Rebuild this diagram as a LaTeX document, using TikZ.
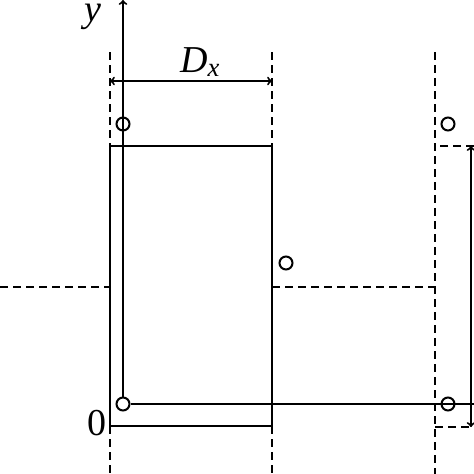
\documentclass[tikz,border=0pt]{standalone}
\usepackage{fontspec}
\setmainfont{Liberation Serif}
\usetikzlibrary{arrows}
\tikzstyle{line} = [draw, line width=2pt]
\tikzstyle{box} = [draw, line width=2.7pt]
\tikzstyle{guide} = [draw, line width=2.2pt, dash pattern=on 8pt off 5pt]
\tikzstyle{hole} = [draw, circle, line width=2pt, minimum size=13pt, inner sep=0pt]
\tikzstyle{lbl} = [inner sep=0pt, font=\fontsize{38}{44}\selectfont]

\begin{document}
\begin{tikzpicture}[x=1pt, y=-1pt]
	\useasboundingbox (0,0) rectangle (474,474);
	% part outline and guides
	\coordinate (RTL) at (110,146);
	\coordinate (RBR) at (272,426);
	\draw[box] (RTL) rectangle (RBR);
	\draw[guide] (110,52) -- (RTL);
	\draw[guide] (110,426) -- (110,474);
	\draw[guide] (272,52) -- (272,146);
	\draw[guide] (RBR) -- (272,474);
	\draw[guide] (435,52) -- (435,474);
	\draw[guide] (0,287) -- (110,287);
	\draw[guide] (272,287) -- (435,287);
	\draw[guide] (474,146) -- (435,146);
	\draw[guide] (435,427) -- (474,427);
	% holes
	\node[hole] (O) at (123,404) {};
	\node[hole] (A) at (123,124) {};
	\node[hole] (B) at (286,263) {};
	\node[hole] (C) at (448,124) {};
	\node[hole] (D) at (448,404) {};
	% axes
	\coordinate (Ytop) at (123,0);
	\coordinate (Xend) at (474,404);
	\draw[line, ->] (O) -- (Ytop);
	\draw[line] (O) -- (Xend);
	\node[lbl, anchor=north] (ylab) at (93,4) {\textit{y}};
	\node[lbl] (zero) at (97,423) {0};
	% pitch
	\coordinate (P1) at (110,81);
	\coordinate (P2) at (272,81);
	\draw[line, <->] (P1) -- (P2);
	\node[lbl] (dx) at (200,62) {\textit{D}\textsubscript{\textit{x}}};
	\coordinate (Q1) at (471,146);
	\coordinate (Q2) at (471,427);
	\draw[line, <->] (Q1) -- (Q2);
\end{tikzpicture}
\end{document}
